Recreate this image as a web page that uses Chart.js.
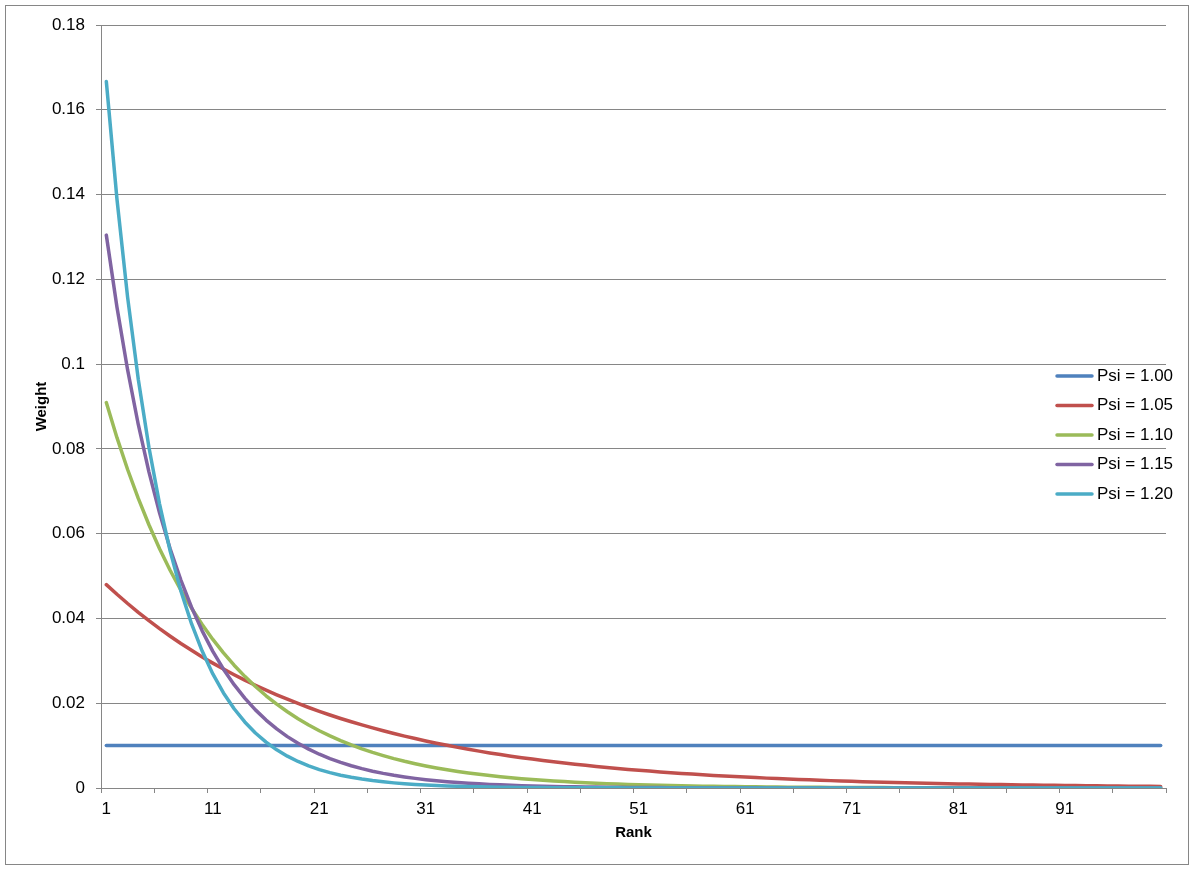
<!DOCTYPE html>
<html>
<head>
<meta charset="utf-8">
<script src="https://cdn.jsdelivr.net/npm/chart.js@4"></script>
<style>
  html, body { margin: 0; padding: 0; background: #fff; }
  canvas { display: block; }
</style>
</head>
<body>
<canvas id="chart" width="1200" height="869"></canvas>
<script>
// rank categories on the x axis
const ranks = [
  1, 2, 3, 4, 5, 6, 7, 8, 9, 10,
  11, 12, 13, 14, 15, 16, 17, 18, 19, 20,
  21, 22, 23, 24, 25, 26, 27, 28, 29, 30,
  31, 32, 33, 34, 35, 36, 37, 38, 39, 40,
  41, 42, 43, 44, 45, 46, 47, 48, 49, 50,
  51, 52, 53, 54, 55, 56, 57, 58, 59, 60,
  61, 62, 63, 64, 65, 66, 67, 68, 69, 70,
  71, 72, 73, 74, 75, 76, 77, 78, 79, 80,
  81, 82, 83, 84, 85, 86, 87, 88, 89, 90,
  91, 92, 93, 94, 95, 96, 97, 98, 99, 100
];

const seriesNames = ['Psi = 1.00', 'Psi = 1.05', 'Psi = 1.10', 'Psi = 1.15', 'Psi = 1.20'];

const psi100 = [
  0.01, 0.01, 0.01, 0.01, 0.01, 0.01, 0.01, 0.01, 0.01, 0.01,
  0.01, 0.01, 0.01, 0.01, 0.01, 0.01, 0.01, 0.01, 0.01, 0.01,
  0.01, 0.01, 0.01, 0.01, 0.01, 0.01, 0.01, 0.01, 0.01, 0.01,
  0.01, 0.01, 0.01, 0.01, 0.01, 0.01, 0.01, 0.01, 0.01, 0.01,
  0.01, 0.01, 0.01, 0.01, 0.01, 0.01, 0.01, 0.01, 0.01, 0.01,
  0.01, 0.01, 0.01, 0.01, 0.01, 0.01, 0.01, 0.01, 0.01, 0.01,
  0.01, 0.01, 0.01, 0.01, 0.01, 0.01, 0.01, 0.01, 0.01, 0.01,
  0.01, 0.01, 0.01, 0.01, 0.01, 0.01, 0.01, 0.01, 0.01, 0.01,
  0.01, 0.01, 0.01, 0.01, 0.01, 0.01, 0.01, 0.01, 0.01, 0.01,
  0.01, 0.01, 0.01, 0.01, 0.01, 0.01, 0.01, 0.01, 0.01, 0.01
];

const psi105 = [
  0.04798, 0.04570, 0.04352, 0.04145, 0.03948, 0.03760, 0.03581, 0.03410, 0.03248, 0.03093,
  0.02946, 0.02806, 0.02672, 0.02545, 0.02424, 0.02308, 0.02198, 0.02094, 0.01994, 0.01899,
  0.01808, 0.01722, 0.01640, 0.01562, 0.01488, 0.01417, 0.01350, 0.01285, 0.01224, 0.01166,
  0.01110, 0.01057, 0.01007, 0.00959, 0.00913, 0.00870, 0.00828, 0.00789, 0.00751, 0.00716,
  0.00682, 0.00649, 0.00618, 0.00589, 0.00561, 0.00534, 0.00509, 0.00484, 0.00461, 0.00439,
  0.00418, 0.00399, 0.00380, 0.00361, 0.00344, 0.00328, 0.00312, 0.00297, 0.00283, 0.00270,
  0.00257, 0.00245, 0.00233, 0.00222, 0.00211, 0.00201, 0.00192, 0.00183, 0.00174, 0.00166,
  0.00158, 0.00150, 0.00143, 0.00136, 0.00130, 0.00124, 0.00118, 0.00112, 0.00107, 0.00102,
  0.00097, 0.00092, 0.00088, 0.00084, 0.00080, 0.00076, 0.00072, 0.00069, 0.00066, 0.00062,
  0.00059, 0.00057, 0.00054, 0.00051, 0.00049, 0.00047, 0.00044, 0.00042, 0.00040, 0.00038
];

const psi110 = [
  0.09092, 0.08265, 0.07514, 0.06831, 0.06210, 0.05645, 0.05132, 0.04665, 0.04241, 0.03856,
  0.03505, 0.03187, 0.02897, 0.02634, 0.02394, 0.02176, 0.01979, 0.01799, 0.01635, 0.01487,
  0.01351, 0.01229, 0.01117, 0.01015, 0.00923, 0.00839, 0.00763, 0.00693, 0.00630, 0.00573,
  0.00521, 0.00474, 0.00431, 0.00391, 0.00356, 0.00324, 0.00294, 0.00267, 0.00243, 0.00221,
  0.00201, 0.00183, 0.00166, 0.00151, 0.00137, 0.00125, 0.00113, 0.00103, 0.00094, 0.00085,
  0.00077, 0.00070, 0.00064, 0.00058, 0.00053, 0.00048, 0.00044, 0.00040, 0.00036, 0.00033,
  0.00030, 0.00027, 0.00025, 0.00022, 0.00020, 0.00019, 0.00017, 0.00015, 0.00014, 0.00013,
  0.00012, 0.00010, 0.00010, 0.00009, 0.00008, 0.00007, 0.00007, 0.00006, 0.00005, 0.00005,
  0.00004, 0.00004, 0.00004, 0.00003, 0.00003, 0.00003, 0.00003, 0.00002, 0.00002, 0.00002,
  0.00002, 0.00002, 0.00001, 0.00001, 0.00001, 0.00001, 0.00001, 0.00001, 0.00001, 0.00001
];

const psi115 = [
  0.13043, 0.11342, 0.09863, 0.08576, 0.07458, 0.06485, 0.05639, 0.04904, 0.04264, 0.03708,
  0.03224, 0.02804, 0.02438, 0.02120, 0.01843, 0.01603, 0.01394, 0.01212, 0.01054, 0.00917,
  0.00797, 0.00693, 0.00603, 0.00524, 0.00456, 0.00396, 0.00345, 0.00300, 0.00261, 0.00227,
  0.00197, 0.00171, 0.00149, 0.00130, 0.00113, 0.00098, 0.00085, 0.00074, 0.00064, 0.00056,
  0.00049, 0.00042, 0.00037, 0.00032, 0.00028, 0.00024, 0.00021, 0.00018, 0.00016, 0.00014,
  0.00012, 0.00010, 0.00009, 0.00008, 0.00007, 0.00006, 0.00005, 0.00005, 0.00004, 0.00003,
  0.00003, 0.00003, 0.00002, 0.00002, 0.00002, 0.00001, 0.00001, 0.00001, 0.00001, 0.00001,
  0.00001, 0.00001, 0.00001, 0, 0, 0, 0, 0, 0, 0,
  0, 0, 0, 0, 0, 0, 0, 0, 0, 0,
  0, 0, 0, 0, 0, 0, 0, 0, 0, 0
];

const psi120 = [
  0.16667, 0.13889, 0.11574, 0.09645, 0.08038, 0.06698, 0.05582, 0.04651, 0.03876, 0.03230,
  0.02692, 0.02243, 0.01869, 0.01558, 0.01298, 0.01082, 0.00901, 0.00751, 0.00626, 0.00522,
  0.00435, 0.00362, 0.00302, 0.00252, 0.00210, 0.00175, 0.00146, 0.00121, 0.00101, 0.00084,
  0.00070, 0.00059, 0.00049, 0.00041, 0.00034, 0.00028, 0.00024, 0.00020, 0.00016, 0.00014,
  0.00011, 0.00009, 0.00008, 0.00007, 0.00005, 0.00005, 0.00004, 0.00003, 0.00003, 0.00002,
  0.00002, 0.00002, 0.00001, 0.00001, 0.00001, 0.00001, 0.00001, 0.00001, 0, 0,
  0, 0, 0, 0, 0, 0, 0, 0, 0, 0,
  0, 0, 0, 0, 0, 0, 0, 0, 0, 0,
  0, 0, 0, 0, 0, 0, 0, 0, 0, 0,
  0, 0, 0, 0, 0, 0, 0, 0, 0, 0
];

const colors = ['#4F81BD', '#C0504D', '#9BBB59', '#8064A2', '#4BACC6'];
const GRID = '#868686';
const FONT = '"Liberation Sans", Arial, sans-serif';

Chart.defaults.font.family = FONT;
Chart.defaults.color = '#000';

function make_dataset(label, values, color, order) {
    return {
        label: label,
        data: values,
        borderColor: color,
        backgroundColor: color,
        borderWidth: 3.5,
        borderCapStyle: 'round',
        borderJoinStyle: 'round',
        pointRadius: 0,
        tension: 0,
        fill: false,
        order: order
    };
}

// white page with the thin grey frame round it
const framePlugin = {
    id: 'frame',
    beforeDraw(chart) {
        const c = chart.ctx;
        c.save();
        c.fillStyle = '#fff';
        c.fillRect(0, 0, chart.width, chart.height);
        c.strokeStyle = GRID;
        c.lineWidth = 1;
        c.strokeRect(5.5, 5.5, 1183, 859);
        c.restore();
    }
};

// legend drawn over the right side of the plot, like the original
const sideLegend = {
    id: 'sideLegend',
    afterDraw(chart) {
        const c = chart.ctx;
        c.save();
        c.font = '17px ' + FONT;
        c.textBaseline = 'middle';
        c.textAlign = 'left';
        chart.data.datasets.forEach((ds, i) => {
            const y = 376 + i * 29.5;
            c.strokeStyle = ds.borderColor;
            c.lineWidth = 3.5;
            c.lineCap = 'round';
            c.beginPath();
            c.moveTo(1057, y);
            c.lineTo(1092, y);
            c.stroke();
            c.fillStyle = '#000';
            c.fillText(ds.label, 1097, y);
        });
        c.restore();
    }
};

const datasets = [
    make_dataset(seriesNames[0], psi100, colors[0], 5),
    make_dataset(seriesNames[1], psi105, colors[1], 4),
    make_dataset(seriesNames[2], psi110, colors[2], 3),
    make_dataset(seriesNames[3], psi115, colors[3], 2),
    make_dataset(seriesNames[4], psi120, colors[4], 1)
];

const myChart = new Chart(document.getElementById('chart'), {
    type: 'line',
    data: {
        labels: ranks,
        datasets: datasets
    },
    options: {
        responsive: false,
        animation: false,
        layout: { padding: { top: 25, right: 34, left: 0, bottom: 0 } },
        plugins: {
            legend: { display: false },
            tooltip: { enabled: false }
        },
        scales: {
            x: {
                offset: true,
                grid: {
                    offset: true,
                    drawOnChartArea: false,
                    tickLength: 5,
                    color: (ctx) => (ctx.index === undefined || ctx.index % 5 === 0) ? GRID : 'rgba(0,0,0,0)'
                },
                border: { color: GRID },
                ticks: {
                    autoSkip: false,
                    maxRotation: 0,
                    padding: 6,
                    font: { size: 17 },
                    callback: function (value, index) {
                        return index % 10 === 0 ? this.getLabelForValue(value) : '';
                    }
                },
                title: {
                    display: true,
                    text: 'Rank',
                    font: { size: 15, weight: 'bold' },
                    padding: { top: 0, bottom: 27 }
                },
                afterFit: (scale) => { scale.height = 81; }
            },
            y: {
                min: 0,
                max: 0.18,
                grid: { color: GRID, tickLength: 5 },
                border: { color: GRID },
                ticks: {
                    stepSize: 0.02,
                    padding: 11,
                    font: { size: 17 },
                    callback: (v) => String(+v.toFixed(2))
                },
                title: {
                    display: true,
                    text: 'Weight',
                    font: { size: 15, weight: 'bold' },
                    padding: { top: 33, bottom: 0 }
                },
                afterFit: (scale) => { scale.width = 101; }
            }
        }
    },
    plugins: [framePlugin, sideLegend]
});
</script>
</body>
</html>
